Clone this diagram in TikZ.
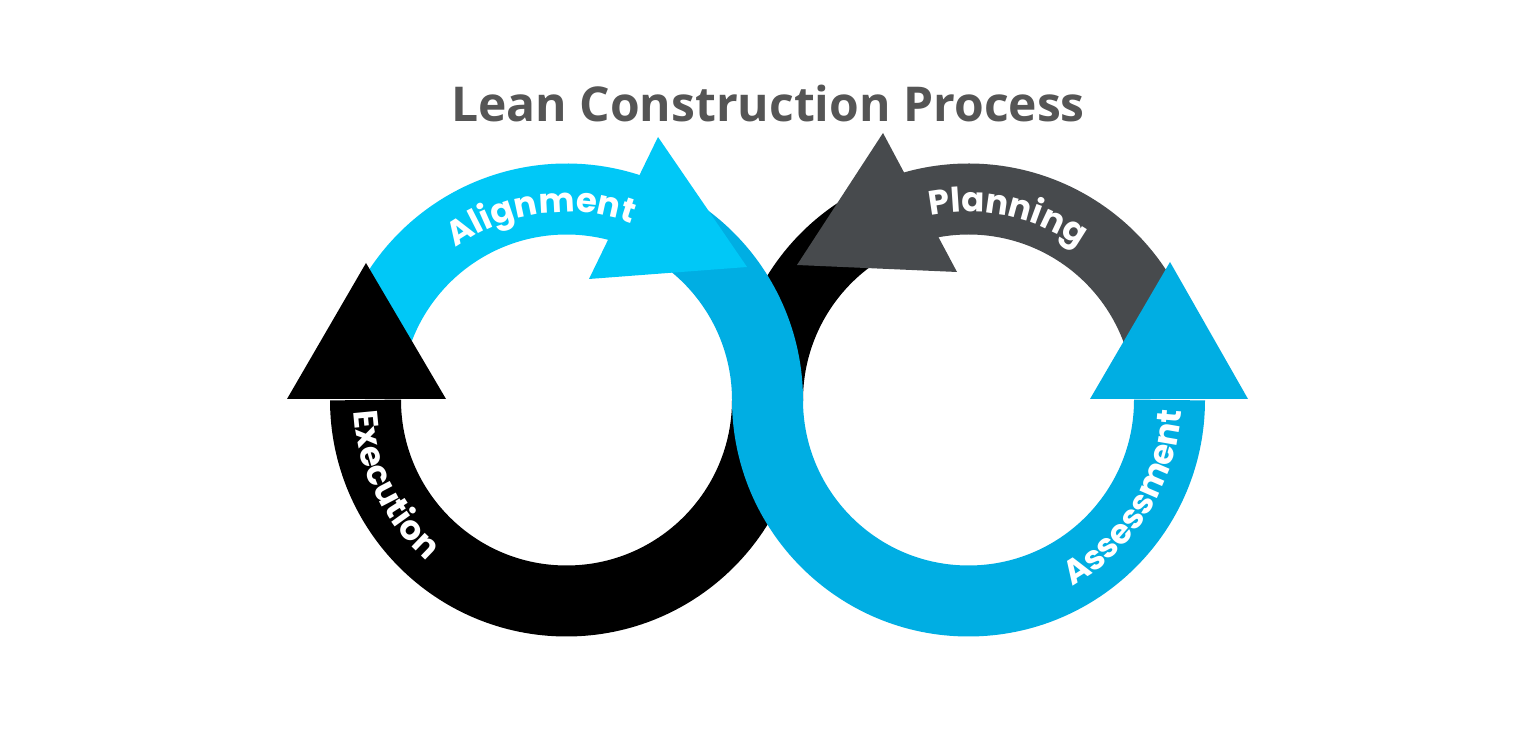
\documentclass[tikz,border=0pt]{standalone}
\usepackage{fontspec}
\usetikzlibrary{calc,decorations.text}
\newfontfamily\titlefont{Open Sans}
\newfontfamily\labfont{Poppins}
\definecolor{lblue}{HTML}{00C8F7}
\definecolor{dblue}{HTML}{00AEE3}
\definecolor{dgray}{HTML}{474A4D}
\definecolor{tgray}{HTML}{555555}
\begin{document}
\begin{tikzpicture}[x=1pt,y=1pt,
  band/.style={line width=71pt},
  lab/.style={decorate,decoration={text along path,text align=center,text color=white,
     text format delimiters={|}{|},text={|\labfont\bfseries\fontsize{34}{34}\selectfont|#1}}}]
\useasboundingbox (0,0) rectangle (1536,754);
\fill[white] (0,0) rectangle (1536,754);
\coordinate (L) at (566.5,354);
\coordinate (R) at (968.5,354);
% black band (Execution)
\draw[band,black] ($(R)+(120:201)$) arc[start angle=120,end angle=180,radius=201]
   arc[start angle=0,end angle=-180,radius=201];
% gray band (Planning)
\draw[band,dgray] ($(R)+(15:201)$) arc[start angle=15,end angle=118,radius=201];
% light blue band (Alignment)
\draw[band,lblue] ($(L)+(165:201)$) arc[start angle=165,end angle=60,radius=201];
% dark blue band (Assessment)
\draw[band,dblue] ($(L)+(62:201)$) arc[start angle=62,end angle=0,radius=201]
   arc[start angle=180,end angle=360,radius=201];
% arrowheads
\fill[black] (366,491) -- (287,355) -- (446,355) -- cycle;
\fill[lblue] (658,617) -- (589,475) -- (747,487) -- cycle;
\fill[dgray] (883,621) -- (797,489) -- (957,482) -- cycle;
\fill[dblue] (1170,492) -- (1090,355) -- (1248,355) -- cycle;
% labels
\path[lab=Alignment] ($(L)+(150:188)$) arc[start angle=150,end angle=46,radius=188];
\path[lab=Planning] ($(R)+(130:188)$) arc[start angle=130,end angle=26,radius=188];
\path[lab=Execution] ($(L)+(146:213)$) arc[start angle=146,end angle=266,radius=213];
\path[lab=Assessment] ($(R)+(268:213)$) arc[start angle=268,end angle=388,radius=213];
% title
\node[font=\titlefont\bfseries\fontsize{48}{48}\selectfont,text=tgray,anchor=base,inner sep=0pt] (title) at (768,632) {Lean Construction Process};
\end{tikzpicture}
\end{document}
